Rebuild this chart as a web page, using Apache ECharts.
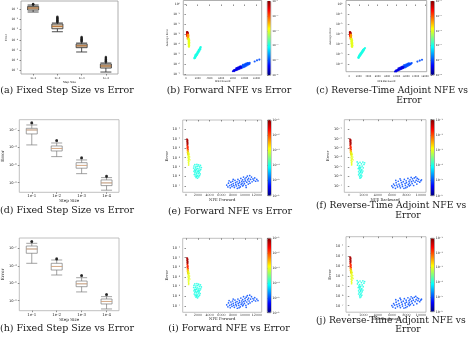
<!DOCTYPE html>
<html><head><meta charset="utf-8">
<script src="https://cdn.jsdelivr.net/npm/echarts@6/dist/echarts.min.js"></script>
<style>html,body{margin:0;padding:0;background:#fff}#c{width:474px;height:345px}</style>
</head><body><div id="c"></div>
<script>
// ================= DATA (errors stored as log10 values) =================
const stepSizes = ['1e-1','1e-2','1e-3','1e-4'];
// box stats: [low whisker, Q1, median, Q3, high whisker]
const boxA = [[-1.29,-1.1,-0.9,-0.74,-0.61],[-3.21,-2.92,-2.68,-2.46,-2.36],[-5.18,-4.76,-4.58,-4.4,-4.31],[-7.13,-6.74,-6.54,-6.35,-6.25]];
const outA = [[-0.5,-0.54,-0.57],[-1.75,-1.82,-1.9,-1.97,-2.03,-2.1,-2.16,-2.22,-2.28],[-3.72,-3.8,-3.87,-3.94,-4.0,-4.06,-4.12,-4.18],[-5.67,-5.75,-5.83,-5.9,-5.97,-6.03,-6.09,-6.15]];
const boxD = [[-3.7,-2.45,-2.0,-1.81,-1.43],[-5.03,-4.39,-4.1,-3.82,-3.48],[-6.97,-6.35,-6.03,-5.72,-5.41],[-8.85,-8.33,-8.02,-7.68,-7.42]];
const outD = [[-1.24,-1.16],[-3.25,-3.17],[-5.22,-5.14],[-7.31,-7.23]];
const boxH = [[-3.72,-2.57,-2.08,-1.74,-1.43],[-5.06,-4.49,-4.08,-3.72,-3.34],[-7.0,-6.4,-6.07,-5.75,-5.37],[-8.95,-8.38,-8.09,-7.81,-7.54]];
const outH = [[-1.28,-1.2],[-3.26,-3.18],[-5.17,-5.09],[-7.35,-7.27]];

// colour value (log10 tolerance) of each cluster: dark red, red, orange, yellow, cyan, blue, navy
const clusterShade = [-1.2,-1.8,-2.4,-3.0,-4.0,-5.0,-5.5];

// (b) forward NFE vs average error: [nfe, log10 error]
const bDarkRed = [[180,-2.78],[260,-2.8],[220,-2.84],[300,-2.87],[200,-2.9],[270,-2.93],[240,-2.97],[310,-3.0]];
const bRed = [[210,-3.0],[280,-3.04],[240,-3.08],[330,-3.1],[200,-3.14],[290,-3.17],[250,-3.2]];
const bOrange = [[380,-3.05],[420,-3.12],[360,-3.2],[400,-3.26],[300,-3.3],[350,-3.36],[420,-3.4],[280,-3.44]];
const bYellow = [[420,-3.45],[520,-3.5],[470,-3.56],[560,-3.62],[440,-3.68],[530,-3.74],[490,-3.8],[580,-3.86],[450,-3.92],[540,-3.98],[500,-4.05],[560,-4.12],[480,-4.2],[520,-4.26]];
const bCyan = [[1420,-5.42],[1480,-5.36],[1530,-5.3],[1600,-5.26],[1650,-5.2],[1700,-5.14],[1760,-5.08],[1820,-5.03],[1880,-4.97],[1930,-4.92],[1990,-4.86],[2050,-4.8],[2100,-4.74],[2160,-4.68],[2220,-4.62],[2280,-4.56],[2340,-4.5],[2400,-4.42],[2460,-4.35],[2510,-4.28],[1550,-5.38],[1700,-5.24],[1850,-5.1],[2000,-4.96],[2150,-4.8],[2300,-4.66],[2450,-4.5],[1600,-5.1],[1800,-4.96],[2000,-4.76],[2200,-4.56]];
const bBlue = [[9500,-6.25],[9650,-6.2],[9800,-6.17],[9950,-6.12],[10100,-6.08],[10250,-6.04],[10400,-6.0],[10550,-5.96],[10700,-5.92],[10850,-5.88],[9600,-6.35],[9850,-6.3],[10050,-6.24],[10300,-6.16],[10550,-6.08],[10800,-6.0],[9700,-6.08],[10000,-6.02],[10250,-5.95],[10500,-5.9],[11700,-5.74],[12100,-5.62],[12500,-5.55]];
const bNavy = [[8000,-6.72],[8150,-6.64],[8300,-6.6],[8450,-6.56],[8600,-6.5],[8750,-6.47],[8900,-6.42],[9050,-6.38],[9200,-6.34],[9350,-6.3],[8250,-6.7],[8500,-6.62],[8700,-6.58],[8950,-6.52],[9150,-6.46],[9400,-6.4],[8600,-6.4],[8850,-6.35],[9100,-6.28],[9300,-6.22]];

// (c) backward NFE vs average error
const cDarkRed = [[120,-2.78],[220,-2.8],[170,-2.84],[260,-2.87],[140,-2.9],[230,-2.93],[190,-2.97],[270,-3.0]];
const cRed = [[160,-3.0],[250,-3.04],[200,-3.08],[300,-3.1],[150,-3.14],[260,-3.17],[210,-3.2]];
const cOrange = [[350,-3.05],[400,-3.12],[330,-3.2],[380,-3.26],[270,-3.3],[320,-3.36],[400,-3.4],[260,-3.44]];
const cYellow = [[380,-3.45],[520,-3.5],[450,-3.56],[600,-3.62],[420,-3.68],[560,-3.74],[480,-3.8],[650,-3.86],[440,-3.92],[600,-3.98],[520,-4.05],[680,-4.12],[500,-4.2],[600,-4.26]];
const cCyan = [[1900,-5.33],[1970,-5.27],[2040,-5.22],[2110,-5.18],[2180,-5.12],[2250,-5.08],[2320,-5.02],[2390,-4.97],[2460,-4.93],[2530,-4.88],[2600,-4.83],[2670,-4.78],[2740,-4.73],[2810,-4.68],[2880,-4.64],[2950,-4.6],[3020,-4.56],[3100,-4.5],[3180,-4.44],[3320,-4.37],[2000,-5.35],[2200,-5.2],[2400,-5.06],[2600,-4.92],[2800,-4.78],[3000,-4.64],[2100,-5.1],[2350,-4.92],[2650,-4.72],[2900,-4.55]];
const cBlue = [[11400,-6.25],[11600,-6.2],[11800,-6.17],[12000,-6.12],[12200,-6.08],[12400,-6.04],[12600,-6.0],[12800,-5.96],[13000,-5.92],[13190,-5.88],[11500,-6.35],[11800,-6.3],[12050,-6.24],[12350,-6.16],[12650,-6.08],[12950,-6.0],[11600,-6.08],[12000,-6.02],[12300,-5.95],[12600,-5.9],[14400,-5.72],[14900,-5.62],[15370,-5.54]];
const cNavy = [[9660,-6.72],[9850,-6.64],[10050,-6.6],[10250,-6.56],[10450,-6.5],[10650,-6.47],[10850,-6.42],[11050,-6.38],[11250,-6.34],[11450,-6.3],[9950,-6.7],[10200,-6.62],[10450,-6.58],[10700,-6.52],[10950,-6.46],[11250,-6.4],[10400,-6.4],[10700,-6.35],[11000,-6.28],[11250,-6.22]];

// (e)/(i) forward NFE vs error
const eDarkRed = [[150,-2.03],[250,-2.08],[200,-2.15],[300,-2.2],[170,-2.27],[260,-2.33],[220,-2.4],[320,-2.45],[190,-2.52],[280,-2.58],[240,-2.65]];
const eRed = [[210,-2.72],[300,-2.78],[250,-2.85],[340,-2.9],[200,-2.96],[290,-3.02],[260,-3.08],[350,-3.14]];
const eOrange = [[230,-3.18],[320,-3.24],[270,-3.3],[380,-3.36],[250,-3.42],[340,-3.5],[290,-3.58],[360,-3.66]];
const eYellow = [[300,-3.4],[450,-3.48],[380,-3.56],[550,-3.62],[320,-3.7],[480,-3.78],[400,-3.86],[600,-3.92],[350,-4.0],[520,-4.08],[430,-4.16],[650,-4.22],[380,-4.3],[500,-4.4],[420,-4.52],[460,-4.65],[440,-4.78]];
const eCyan = [[1500,-4.72],[1850,-4.7],[2150,-4.76],[2450,-4.82],[1350,-4.88],[1700,-4.93],[2000,-4.9],[2300,-4.98],[2600,-5.04],[1300,-5.1],[1600,-5.08],[1900,-5.14],[2200,-5.18],[2500,-5.24],[1450,-5.3],[1750,-5.27],[2050,-5.34],[2350,-5.38],[1350,-5.44],[1650,-5.49],[1950,-5.5],[2250,-5.56],[1500,-5.6],[1800,-5.64],[2100,-5.68],[2400,-5.72],[1400,-5.78],[1700,-5.8],[2000,-5.86],[2300,-5.9],[1550,-5.95],[1850,-6.0],[2150,-6.04],[1700,-6.1],[1950,-6.18],[1600,-5.35],[2100,-5.45],[1800,-5.95]];
const eBlue = [[6900,-6.9],[7100,-7.1],[7200,-6.7],[7400,-6.95],[7500,-7.2],[7600,-6.6],[7700,-6.85],[7800,-7.05],[7900,-6.5],[8000,-6.75],[8100,-6.95],[8200,-7.15],[8300,-6.4],[8400,-6.65],[8450,-6.85],[8550,-7.0],[8650,-6.55],[8700,-7.25],[8800,-6.3],[8850,-6.75],[8950,-6.95],[9050,-6.45],[9100,-6.65],[9200,-7.1],[9300,-6.2],[9350,-6.85],[9450,-6.5],[9500,-6.7],[9600,-6.35],[9700,-6.9],[9750,-6.05],[9800,-6.55],[9900,-6.75],[10000,-6.25],[10050,-6.45],[10150,-6.95],[10200,-6.1],[10300,-6.6],[10400,-5.95],[10450,-6.35],[10550,-6.8],[10600,-6.2],[10700,-6.5],[10800,-5.9],[10850,-6.7],[10950,-6.3],[11100,-6.05],[11200,-6.55],[11350,-6.25],[11500,-6.4],[11650,-6.15],[11800,-6.5],[12000,-6.3],[12200,-6.45],[9000,-7.2],[9600,-7.0],[10200,-7.15],[7300,-6.45],[8000,-6.3]];

// (f)/(j) backward NFE vs error
const fDarkRed = [[80,-2.05],[180,-2.1],[120,-2.17],[220,-2.22],[90,-2.29],[190,-2.35],[140,-2.42],[240,-2.47],[110,-2.54],[200,-2.6],[150,-2.67]];
const fRed = [[120,-2.73],[210,-2.79],[160,-2.86],[250,-2.92],[110,-2.98],[200,-3.04],[170,-3.1],[260,-3.15]];
const fOrange = [[140,-3.2],[230,-3.26],[180,-3.32],[280,-3.38],[160,-3.44],[250,-3.52],[200,-3.6],[270,-3.67]];
const fYellow = [[200,-3.42],[330,-3.5],[260,-3.58],[420,-3.64],[220,-3.72],[360,-3.8],[290,-3.88],[480,-3.94],[240,-4.02],[400,-4.1],[310,-4.18],[520,-4.24],[260,-4.32],[380,-4.42],[300,-4.54],[340,-4.66],[320,-4.78]];
const fCyan = [[1100,-4.46],[1500,-4.5],[1900,-4.48],[2150,-4.55],[1250,-4.62],[1700,-4.66],[2050,-4.72],[1150,-4.8],[1450,-4.86],[1800,-4.9],[1350,-5.0],[1600,-5.04],[1950,-5.08],[1250,-5.16],[1500,-5.2],[1750,-5.26],[1400,-5.32],[1650,-5.38],[1900,-5.42],[1300,-5.5],[1550,-5.55],[1800,-5.6],[1400,-5.68],[1650,-5.74],[1300,-5.82],[1550,-5.88],[1750,-5.94],[1450,-6.02],[1650,-6.1],[1500,-6.18],[1600,-5.45],[1450,-5.1]];
const fBlue = [[5950,-7.0],[6100,-7.15],[6200,-6.8],[6350,-6.95],[6450,-7.25],[6550,-6.65],[6650,-6.9],[6750,-7.1],[6850,-6.5],[6950,-6.8],[7050,-7.0],[7150,-7.2],[7200,-6.4],[7300,-6.65],[7400,-6.85],[7450,-7.05],[7550,-6.55],[7650,-7.25],[7700,-6.3],[7800,-6.75],[7850,-6.95],[7950,-6.45],[8000,-6.65],[8100,-7.1],[8200,-6.2],[8250,-6.85],[8350,-6.5],[8400,-6.7],[8500,-6.35],[8550,-6.9],[8650,-6.1],[8700,-6.55],[8800,-6.75],[8850,-6.25],[8950,-6.45],[9000,-6.95],[9100,-6.15],[9200,-6.6],[9300,-6.05],[9350,-6.4],[9450,-6.8],[9500,-6.2],[9600,-6.5],[9700,-6.3],[9850,-6.6],[10000,-6.45],[10100,-6.35],[7900,-7.2],[8400,-7.0],[6500,-6.4],[7100,-6.25]];

// tick values
const colorTicks = [-1,-2,-3,-4,-5,-6];
const boxTicksTop = [-1,-2,-3,-4,-5,-6,-7];
const boxTicksLow = [-2,-4,-6,-8];
const errTicksB = [0,-1,-2,-3,-4,-5,-6,-7];
const errTicksC = [0,-1,-2,-3,-4,-5,-6];
const errTicksLow = [-1,-2,-3,-4,-5,-6,-7];
const nfeTicks12k = [0,2000,4000,6000,8000,10000,12000];
const nfeTicks16k = [0,2000,4000,6000,8000,10000,12000,14000,16000];
const nfeTicks10k = [0,2000,4000,6000,8000,10000];

// ================= BUILD =================
const jet = ['#00007f','#0000ff','#007fff','#00ffff','#7fff7f','#ffff00','#ff7f00','#ff0000','#7f0000'];
const SUP = '⁰¹²³⁴⁵⁶⁷⁸⁹';
function pow10(v){ return '10' + String(Math.round(v)).replace('-', '⁻').replace(/\d/g, d => SUP[+d]); }
const SANS = '"DejaVu Sans", sans-serif';
const SERIF = '"DejaVu Serif", serif';

const grids = [], xAxes = [], yAxes = [], series = [], visualMaps = [];
function addGrid(g, border){
  grids.push(Object.assign({show:true, borderColor: border || '#a8a8a8', borderWidth:0.8}, g));
  return grids.length - 1;
}
function tickStyle(len){ return {show:true, length:len, lineStyle:{color:'#444', width:0.6}}; }

function boxPanel(g, box, out, yr, yTicks, s){
  const gi = addGrid(g, s.frame);
  xAxes.push({gridIndex:gi, type:'category', data:stepSizes,
    name:'Step Size', nameLocation:'middle', nameGap:s.xNameGap,
    nameTextStyle:{fontSize:s.nameFs, fontFamily:s.font, color:'#222'},
    axisLine:{show:false}, axisTick:Object.assign(tickStyle(1.5), {alignWithLabel:true}),
    axisLabel:{fontSize:s.xFs, margin:s.xMargin, color:'#222', fontFamily:s.font}});
  yAxes.push({gridIndex:gi, type:'value', min:yr[0], max:yr[1],
    name:'Error', nameLocation:'middle', nameGap:s.yNameGap,
    nameTextStyle:{fontSize:s.nameFs, fontFamily:s.font, color:'#222'},
    axisLine:{show:false}, splitLine:{show:false},
    axisTick:Object.assign(tickStyle(1.5), {customValues:yTicks}),
    axisLabel:{customValues:yTicks, formatter:pow10, fontSize:s.yFs, margin:s.yMargin, color:'#222', fontFamily:SANS}});
  const xi = xAxes.length - 1, yi = yAxes.length - 1;
  series.push({type:'boxplot', xAxisIndex:xi, yAxisIndex:yi, data:box, boxWidth:[s.boxW, s.boxW], silent:true,
    itemStyle:{color:s.fill, borderColor:s.edge, borderWidth:s.lw}});
  series.push({type:'scatter', xAxisIndex:xi, yAxisIndex:yi, silent:true, symbol:'rect', symbolSize:[s.boxW, s.medH],
    data: box.map((b, i) => [i, b[2]]), itemStyle:{color:s.median}, z:5});
  const fl = [];
  out.forEach((vals, i) => vals.forEach(v => fl.push([i, v])));
  series.push({type:'scatter', xAxisIndex:xi, yAxisIndex:yi, silent:true, symbol:'circle', symbolSize:s.flier,
    data:fl, itemStyle:{color:'#1a1a1a'}, z:6});
}

function shadePoints(clusters){
  const pts = [];
  clusters.forEach((c, k) => c.forEach(p => pts.push([p[0], p[1], clusterShade[k]])));
  return pts;
}

function scatterPanel(g, clusters, xr, xTicks, yr, yTicks, xName, yName, cb, s){
  const gi = addGrid(g, s.frame);
  xAxes.push({gridIndex:gi, type:'value', min:xr[0], max:xr[1],
    name:xName, nameLocation:'middle', nameGap:s.xNameGap,
    nameTextStyle:{fontSize:s.nameFs, fontFamily:s.font, color:'#222'},
    axisLine:{show:false}, splitLine:{show:false},
    axisTick:Object.assign(tickStyle(1.5), {customValues:xTicks}),
    axisLabel:{customValues:xTicks, formatter:v => String(v), fontSize:s.xFs, margin:s.xMargin, color:'#222', fontFamily:s.font}});
  yAxes.push({gridIndex:gi, type:'value', min:yr[0], max:yr[1],
    name:yName, nameLocation:'middle', nameGap:s.yNameGap,
    nameTextStyle:{fontSize:s.nameFs, fontFamily:s.font, color:'#222'},
    axisLine:{show:false}, splitLine:{show:false},
    axisTick:Object.assign(tickStyle(1.5), {customValues:yTicks}),
    axisLabel:{customValues:yTicks, formatter:pow10, fontSize:s.yFs, margin:s.yMargin, color:'#222', fontFamily:SANS}});
  const xi = xAxes.length - 1, yi = yAxes.length - 1;
  series.push({type:'scatter', xAxisIndex:xi, yAxisIndex:yi, silent:true, symbol:'circle', symbolSize:s.dot,
    data:shadePoints(clusters), itemStyle:{opacity:s.alpha}});
  visualMaps.push({type:'continuous', seriesIndex:series.length - 1, dimension:2, min:-6, max:-1,
    inRange:{color:jet}, left:cb.left, top:cb.top, itemWidth:cb.width, itemHeight:cb.height,
    calculable:false, text:null, padding:0, hoverLink:false});
  const ci = addGrid({left:cb.left, top:cb.top, width:cb.width, height:cb.height}, '#222');
  grids[ci].borderWidth = 0.5;
  xAxes.push({gridIndex:ci, type:'value', min:0, max:1, show:false});
  yAxes.push({gridIndex:ci, type:'value', position:'right', min:-6, max:-1,
    axisLine:{show:false}, splitLine:{show:false},
    axisTick:Object.assign(tickStyle(1.2), {customValues:colorTicks}),
    axisLabel:{customValues:colorTicks, formatter:pow10, fontSize:s.cbFs, margin:1.5, color:'#222', fontFamily:SANS}});
}

// styles
const top1 = {frame:'#9a9a9a', font:SANS, nameFs:2.8, xFs:2.6, yFs:3, xMargin:2.5, yMargin:3, xNameGap:5.5, yNameGap:10,
  boxW:11, lw:0.9, fill:'#eadcc8', edge:'#3a3a3a', median:'#e8862e', medH:1, flier:2.4};
const low = {frame:'#b0b0b0', font:SERIF, nameFs:4.2, xFs:4, yFs:3.6, xMargin:1.2, yMargin:2.5, xNameGap:7, yNameGap:8.5,
  boxW:11, lw:0.7, fill:'#ffffff', edge:'#7a7a7a', median:'#f2b27e', medH:0.8, flier:2.6};
const sTop = {frame:'#9a9a9a', font:SANS, nameFs:2.5, xFs:2.3, yFs:3, xMargin:2, yMargin:3.5, xNameGap:5, yNameGap:12, dot:2.2, alpha:0.9, cbFs:2.8};
const sLow = {frame:'#b0b0b0', font:SERIF, nameFs:3.8, xFs:3.2, yFs:3.5, xMargin:1.6, yMargin:2.5, xNameGap:5, yNameGap:10.5, dot:1.7, alpha:0.85, cbFs:3.2};

const fwdTop = [bDarkRed, bRed, bOrange, bYellow, bCyan, bBlue, bNavy];
const bwdTop = [cDarkRed, cRed, cOrange, cYellow, cCyan, cBlue, cNavy];
const fwdLow = [eDarkRed, eRed, eOrange, eYellow, eCyan, eBlue, []];
const bwdLow = [fDarkRed, fRed, fOrange, fYellow, fCyan, fBlue, []];

// row 1
boxPanel({left:21, top:1, width:97, height:73}, boxA, outA, [-7.32, -0.22], boxTicksTop, top1);
scatterPanel({left:183.3, top:0.5, width:78.4, height:74.5}, fwdTop, [-450, 12900], nfeTicks12k, [-7.1, 0.4], errTicksB,
  'NFE Forward', 'Average Error', {left:267.3, top:0.7, width:3.4, height:74.5}, sTop);
scatterPanel({left:346, top:0.5, width:80.7, height:71.2}, bwdTop, [-700, 16360], nfeTicks16k, [-6.74, 0.4], errTicksC,
  'NFE Backward', 'Average Error', {left:430.7, top:0.7, width:3.6, height:74.3}, Object.assign({}, sTop, {xMargin:4, xNameGap:8, yNameGap:7}));
// row 2
boxPanel({left:19, top:119.7, width:100, height:72.6}, boxD, outD, [-9.09, -0.83], boxTicksLow, low);
scatterPanel({left:182.7, top:120, width:79, height:72.3}, fwdLow, [-560, 12830], nfeTicks12k, [-7.67, 0], errTicksLow,
  'NFE Forward', 'Error', {left:267.7, top:120, width:3.3, height:75.7}, sLow);
scatterPanel({left:344.3, top:119.7, width:81.7, height:72.6}, bwdLow, [-700, 10730], nfeTicks10k, [-7.67, 0], errTicksLow,
  'NFE Backward', 'Error', {left:430.7, top:119.7, width:3.6, height:76}, Object.assign({}, sLow, {yNameGap:9}));
// row 3
boxPanel({left:19, top:238, width:100, height:72.7}, boxH, outH, [-9.15, -0.82], boxTicksLow, Object.assign({}, low, {xMargin:2, xNameGap:6.5}));
scatterPanel({left:182.7, top:238.3, width:79, height:74}, fwdLow, [-560, 12830], nfeTicks12k, [-7.67, 0], errTicksLow,
  'NFE Forward', 'Error', {left:267.3, top:238.3, width:3.7, height:74.4}, Object.assign({}, sLow, {xMargin:1, xNameGap:4.2}));
scatterPanel({left:346, top:236.7, width:80, height:75.5}, bwdLow, [-460, 10730], nfeTicks10k, [-7.67, 0], errTicksLow,
  'NFE Backward', 'Error', {left:430.7, top:238.3, width:3.6, height:73.4}, Object.assign({}, sLow, {xMargin:1, xNameGap:4, yNameGap:10.5}));

// captions
const CAP_FONT = '"DejaVu Serif", serif';
function cap(text, x, y, align, size){
  return {type:'text', x:x, y:y, silent:true, style:{text:text, fontSize:size || 9.5, fontFamily:CAP_FONT, fill:'#1a1a1a',
    align:align || 'center', verticalAlign:'middle', textAlign:align || 'center', textVerticalAlign:'middle'}};
}
const graphic = [
  cap('(a) Fixed Step Size vs Error', 67, 91),
  cap('(b) Forward NFE vs Error', 229, 91),
  cap('(c) Reverse-Time Adjoint NFE vs', 316, 91, 'left', 9.2),
  cap('Error', 409, 100.5, 'center', 9.2),
  cap('(d) Fixed Step Size vs Error', 67, 211),
  cap('(e) Forward NFE vs Error', 230, 211.5),
  cap('(f) Reverse-Time Adjoint NFE vs', 316, 206, 'left', 9.2),
  cap('Error', 408, 215.5, 'center', 9.2),
  cap('(h) Fixed Step Size vs Error', 67, 329),
  cap('(i) Forward NFE vs Error', 229, 329),
  cap('(j) Reverse-Time Adjoint NFE vs', 316, 320.5, 'left', 9.2),
  cap('Error', 408, 330, 'center', 9.2)
];

const chart = echarts.init(document.getElementById('c'), null, {renderer:'canvas', width:474, height:345});
chart.setOption({
  animation:false, backgroundColor:'#ffffff',
  grid:grids, xAxis:xAxes, yAxis:yAxes, visualMap:visualMaps, series:series, graphic:graphic
});
</script></body></html>
